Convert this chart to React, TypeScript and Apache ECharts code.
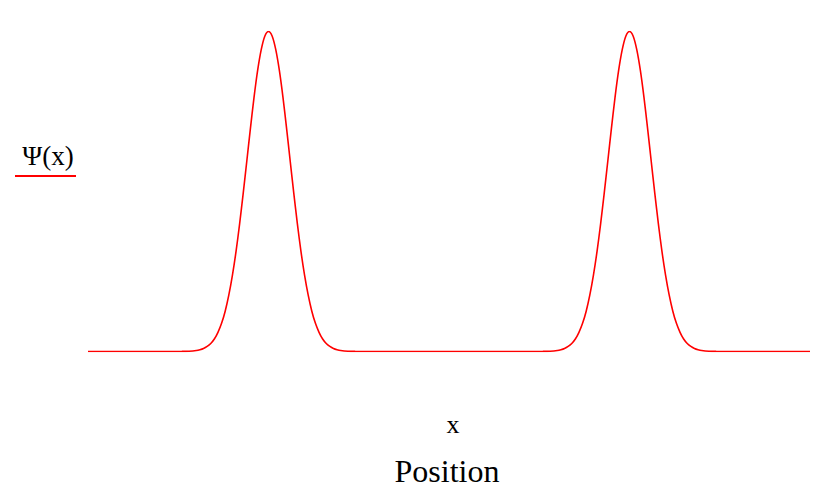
import React, { useEffect, useRef } from "react";
import * as echarts from "echarts";

// Position samples (x) and wavefunction values Ψ(x).
const positions: number[] = [
  0, 0.5, 1.0, 1.3, 1.4, 1.5, 1.55, 1.6, 1.65, 1.7, 1.75, 1.8, 1.85, 1.9, 1.95, 2.0,
  2.05, 2.1, 2.15, 2.2, 2.25, 2.3, 2.35, 2.4, 2.45, 2.5, 2.55, 2.6, 2.65, 2.7, 2.75,
  2.8, 2.85, 2.9, 2.95, 3.0, 3.05, 3.1, 3.15, 3.2, 3.25, 3.3, 3.35, 3.4, 3.45, 3.5,
  3.6, 3.7, 4.0, 5.0, 6.0, 6.3, 6.4, 6.5, 6.55, 6.6, 6.65, 6.7, 6.75, 6.8, 6.85, 6.9,
  6.95, 7.0, 7.05, 7.1, 7.15, 7.2, 7.25, 7.3, 7.35, 7.4, 7.45, 7.5, 7.55, 7.6, 7.65,
  7.7, 7.75, 7.8, 7.85, 7.9, 7.95, 8.0, 8.05, 8.1, 8.15, 8.2, 8.25, 8.3, 8.35, 8.4,
  8.45, 8.5, 8.6, 8.7, 9.0, 9.5, 10.0,
];

const psi: number[] = [
  0, 0, 0, 0.0003, 0.001, 0.0032, 0.0056, 0.0095, 0.016, 0.025, 0.039, 0.06, 0.088,
  0.126, 0.176, 0.238, 0.312, 0.399, 0.495, 0.596, 0.698, 0.795, 0.879, 0.944, 0.986,
  1.0, 0.986, 0.944, 0.879, 0.795, 0.698, 0.596, 0.495, 0.399, 0.312, 0.238, 0.176,
  0.126, 0.088, 0.06, 0.039, 0.025, 0.016, 0.0095, 0.0056, 0.0032, 0.001, 0.0003, 0,
  0, 0, 0.0003, 0.001, 0.0032, 0.0056, 0.0095, 0.016, 0.025, 0.039, 0.06, 0.088,
  0.126, 0.176, 0.238, 0.312, 0.399, 0.495, 0.596, 0.698, 0.795, 0.879, 0.944, 0.986,
  1.0, 0.986, 0.944, 0.879, 0.795, 0.698, 0.596, 0.495, 0.399, 0.312, 0.238, 0.176,
  0.126, 0.088, 0.06, 0.039, 0.025, 0.016, 0.0095, 0.0056, 0.0032, 0.001, 0.0003, 0,
  0, 0,
];

const legendLabel = "Ψ(x)";
const xAxisName = "x";
const xAxisTitle = "Position";

export default function App() {
  const ref = useRef<HTMLDivElement>(null);

  useEffect(() => {
    document.body.style.margin = "0";
    if (!ref.current) return;
    const chart = echarts.init(ref.current, undefined, { renderer: "svg" });
    const serif = "'Liberation Serif', 'DejaVu Serif', serif";
    chart.setOption({
      animation: false,
      backgroundColor: "#ffffff",
      grid: { left: 88, right: 21, top: 31.5, height: 320, containLabel: false },
      xAxis: {
        type: "value",
        min: 0,
        max: 10,
        axisLine: { show: false },
        axisTick: { show: false },
        axisLabel: { show: false },
        splitLine: { show: false },
      },
      yAxis: {
        type: "value",
        min: 0,
        max: 1,
        axisLine: { show: false },
        axisTick: { show: false },
        axisLabel: { show: false },
        splitLine: { show: false },
      },
      graphic: [
        {
          type: "text",
          x: 48,
          y: 156,
          style: {
            text: legendLabel,
            font: `27px ${serif}`,
            fill: "#000",
            align: "center",
            verticalAlign: "middle",
          },
        },
        {
          type: "line",
          shape: { x1: 15, y1: 176, x2: 76, y2: 176 },
          style: { stroke: "#ff0000", lineWidth: 2 },
        },
        {
          type: "text",
          x: 453,
          y: 424,
          style: {
            text: xAxisName,
            font: `26px ${serif}`,
            fill: "#000",
            align: "center",
            verticalAlign: "middle",
          },
        },
        {
          type: "text",
          x: 447,
          y: 471,
          style: {
            text: xAxisTitle,
            font: `32px ${serif}`,
            fill: "#000",
            align: "center",
            verticalAlign: "middle",
          },
        },
      ],
      series: [
        {
          type: "line",
          data: positions.map((p, i) => [p, psi[i]]),
          showSymbol: false,
          smooth: 0.3,
          lineStyle: { color: "#ff0000", width: 1.6 },
          itemStyle: { color: "#ff0000" },
        },
      ],
    });
    return () => chart.dispose();
  }, []);

  return (
    <div
      ref={ref}
      style={{ position: "absolute", left: 0, top: 0, width: 831, height: 493 }}
    />
  );
}
